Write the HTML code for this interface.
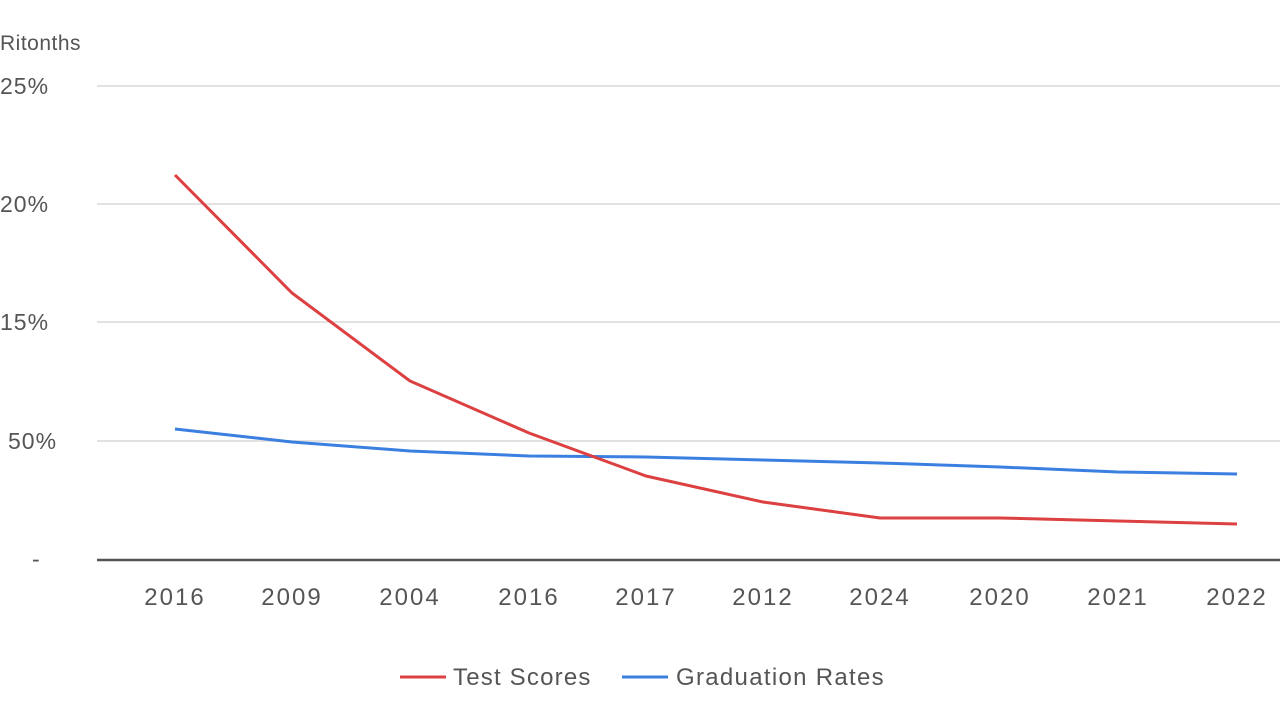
<!DOCTYPE html>
<html><head><meta charset="utf-8"><style>
html,body{margin:0;padding:0;background:#fff;width:1280px;height:720px;overflow:hidden}
svg text{font-family:"Liberation Sans","DejaVu Sans",sans-serif;fill:#555}
</style></head><body>
<svg width="1280" height="720" viewBox="0 0 1280 720" xmlns="http://www.w3.org/2000/svg">
<text x="0" y="50" font-size="21" fill="#666" letter-spacing="0.5">Ritonths</text>
<g stroke="#e2e2e2" stroke-width="2">
<line x1="97" y1="86" x2="1280" y2="86"/>
<line x1="97" y1="204" x2="1280" y2="204"/>
<line x1="97" y1="322" x2="1280" y2="322"/>
<line x1="97" y1="441" x2="1280" y2="441"/>
</g>
<line x1="97" y1="560" x2="1280" y2="560" stroke="#555" stroke-width="2.5"/>
<g font-size="23" letter-spacing="1">
<text x="0" y="94">25%</text>
<text x="0" y="212">20%</text>
<text x="0" y="330">15%</text>
<text x="8" y="449">50%</text>
<text x="32" y="567">-</text>
</g>
<g font-size="24" text-anchor="middle" letter-spacing="2">
<text x="175" y="605">2016</text><text x="292" y="605">2009</text><text x="410" y="605">2004</text>
<text x="529" y="605">2016</text><text x="646" y="605">2017</text><text x="763" y="605">2012</text>
<text x="880" y="605">2024</text><text x="1000" y="605">2020</text><text x="1118" y="605">2021</text>
<text x="1237" y="605">2022</text>
</g>
<polyline fill="none" stroke="#3b7fe0" stroke-width="3" points="175,429 292,442 410,451 529,456 646,457 763,460 880,463 1000,467 1118,472 1237,474"/>
<polyline fill="none" stroke="#dc4040" stroke-width="3" points="175,175 292,293 410,381 529,433 646,476 763,502 880,518 1000,518 1118,521 1237,524"/>
<line x1="400" y1="677" x2="446" y2="677" stroke="#dc4040" stroke-width="3"/>
<text x="453" y="685" font-size="24" letter-spacing="1.2">Test Scores</text>
<line x1="622" y1="677" x2="668" y2="677" stroke="#3b7fe0" stroke-width="3"/>
<text x="676" y="685" font-size="24" letter-spacing="1.3">Graduation Rates</text>
</svg>
</body></html>
